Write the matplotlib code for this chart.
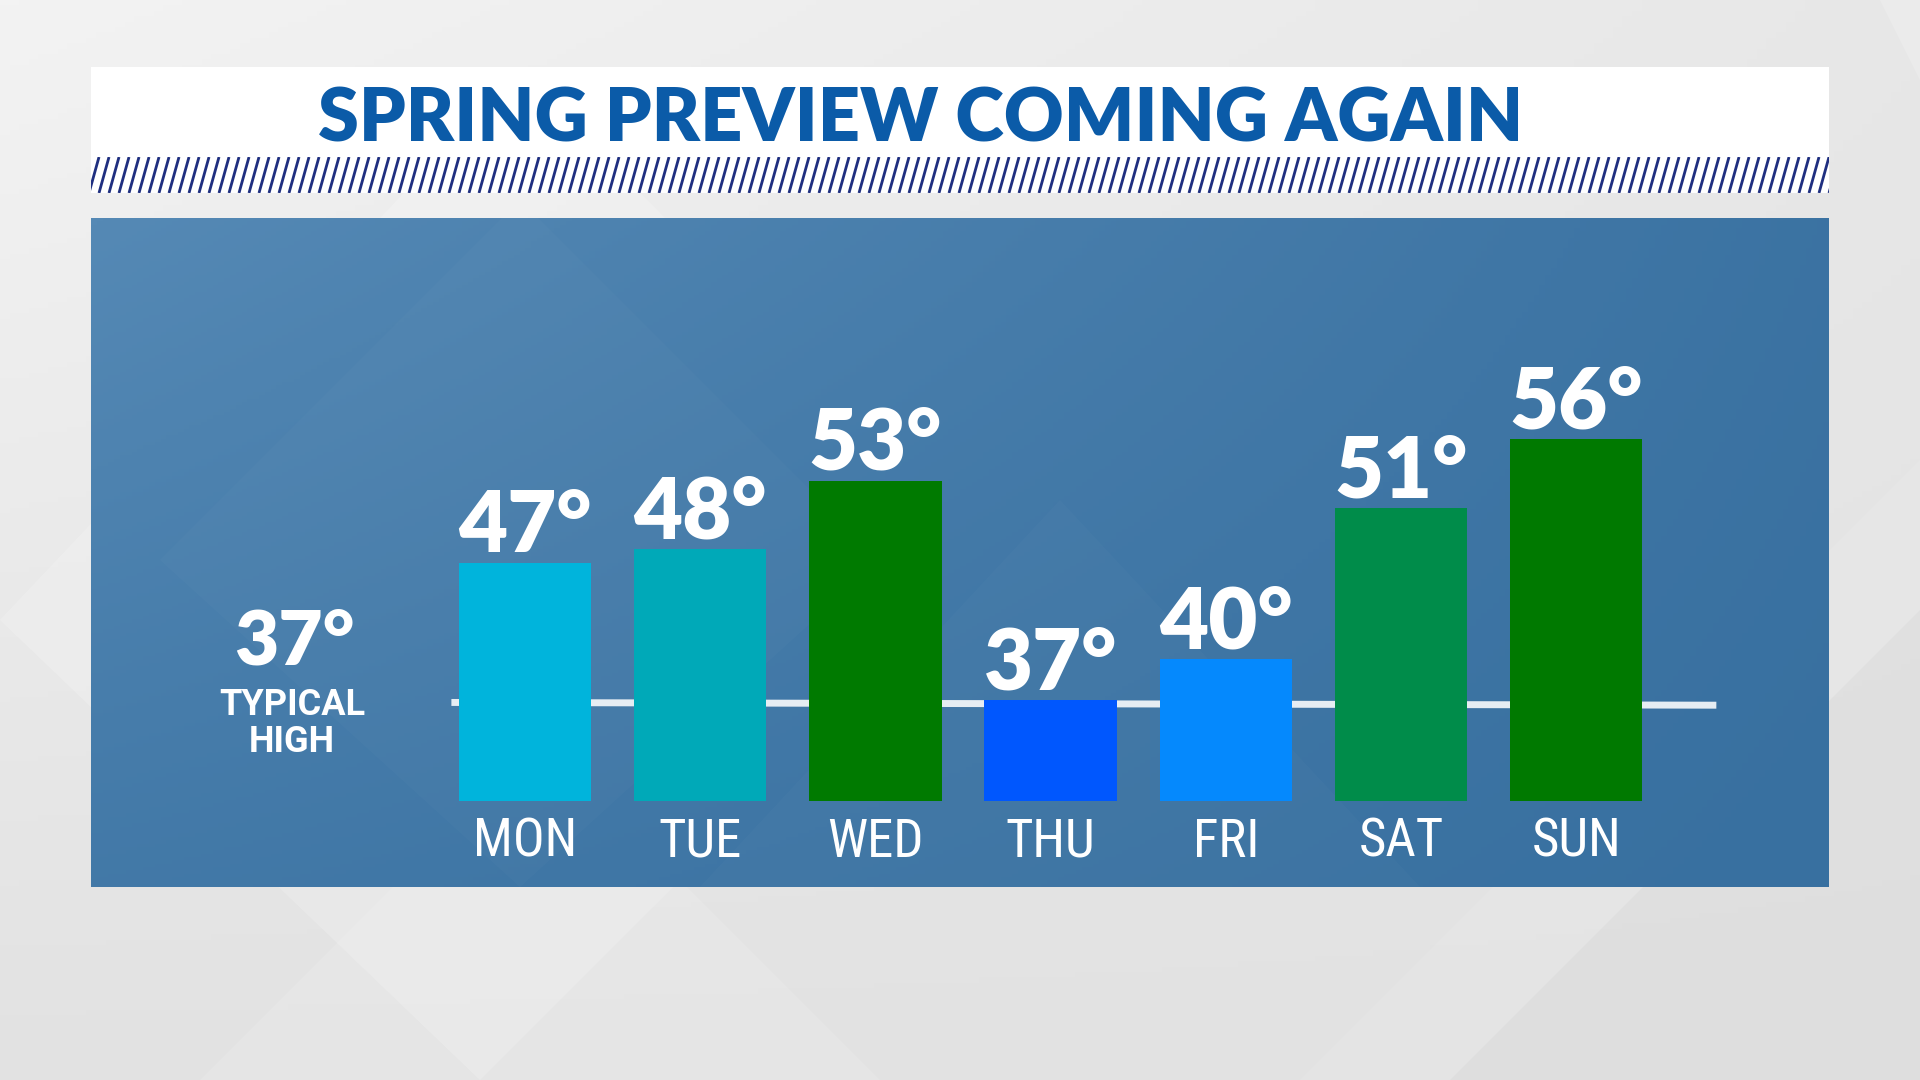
import numpy as np
import matplotlib
matplotlib.use("Agg")
import matplotlib.pyplot as plt
from matplotlib.patches import Rectangle, Polygon
from matplotlib.collections import LineCollection
from matplotlib.colors import LinearSegmentedColormap

# ---- data ----
days = ["MON", "TUE", "WED", "THU", "FRI", "SAT", "SUN"]
highs = [47, 48, 53, 37, 40, 51, 56]
bar_colors = ["#00b4dc", "#00a9b8", "#007a00", "#0057fe", "#0589fd", "#008c4a", "#007900"]
typical_high = 37
title = "SPRING PREVIEW COMING AGAIN"
typical_label = ["TYPICAL", "HIGH"]

W, H = 1920, 1080
fig = plt.figure(figsize=(19.2, 10.8), dpi=100)

# ---- background (pixel-coordinate decoration axes) ----
bg = fig.add_axes([0, 0, 1, 1])
bg.set_xlim(0, W)
bg.set_ylim(H, 0)
bg.axis("off")

yy, xx = np.mgrid[0:1:200j, 0:1:200j]
g = 0.55 * (1 - xx) * (1 - yy) + 0.25 * (1 - yy)
cmap_bg = LinearSegmentedColormap.from_list("bg", ["#e2e2e2", "#f3f3f3"])
bg.imshow(g, extent=[0, W, H, 0], cmap=cmap_bg, vmin=0, vmax=0.8, aspect="auto", zorder=0)

# faint diamond shapes
for pts, a in [
    ([(0, 620), (520, 70), (1000, 560), (480, 1080)], 0.18),
    ([(1300, 1080), (1920, 460), (1920, 1080)], 0.10),
    ([(200, 1080), (540, 740), (880, 1080)], 0.12),
    ([(1880, 0), (1920, 0), (1920, 80)], 0.2),
]:
    bg.add_patch(Polygon(pts, closed=True, facecolor="white", edgecolor="none", alpha=a, zorder=1))
bg.add_patch(Polygon([(1450, 1080), (1920, 610), (1920, 1080)], closed=True,
                     facecolor="#cfcfcf", edgecolor="none", alpha=0.25, zorder=1))

# title box
bx0, bx1 = 91, 1829
bg.add_patch(Rectangle((bx0, 67), bx1 - bx0, 90, facecolor="white", edgecolor="none", zorder=2))
hatch_rect = Rectangle((bx0, 157), bx1 - bx0, 36, facecolor="white", edgecolor="none", zorder=2)
bg.add_patch(hatch_rect)
segs = [[(x0, 193), (x0 + 10, 157)] for x0 in np.arange(bx0 - 12, bx1 + 12, 10)]
lc = LineCollection(segs, colors="#1f2f80", linewidths=2.0, zorder=3)
bg.add_collection(lc)
lc.set_clip_path(hatch_rect)

bg.text(921, 141, title, ha="center", va="baseline", fontsize=53,
        fontfamily="Lato", fontweight="heavy", color="#0b5ba8", zorder=4)

# blue panel with gradient
py0, py1 = 218, 887
yy2, xx2 = np.mgrid[0:1:200j, 0:1:300j]
g2 = np.clip(0.75 * (1 - xx2) * (1 - 0.6 * yy2) + 0.1 * (1 - yy2), 0, 1)
cmap_panel = LinearSegmentedColormap.from_list("panel", ["#3870a0", "#5589b5"])
bg.imshow(g2, extent=[bx0, bx1, py1, py0], cmap=cmap_panel, vmin=0, vmax=0.85,
          aspect="auto", zorder=2)
for pts, a in [
    ([(160, 560), (520, 200), (880, 560), (520, 887)], 0.018),
    ([(700, 887), (1060, 500), (1420, 887)], 0.018),
]:
    bg.add_patch(Polygon(pts, closed=True, facecolor="white", edgecolor="none", alpha=a, zorder=2.5))

# ---- chart axes over the panel ----
ax = fig.add_axes([bx0 / W, (H - py1) / H, (bx1 - bx0) / W, (py1 - py0) / H])
ax.patch.set_alpha(0)
ax.axis("off")
ax.set_xlim(-2.477, 7.443)
ax.set_ylim(23.41, 72.13)

base = 29.7
x = np.arange(len(days))

ax.plot([-0.42, 6.80], [typical_high - 0.15, typical_high - 0.35], color="#e6edf3",
        linewidth=5, solid_capstyle="butt", zorder=1)
ax.bar(x, np.array(highs) - base, bottom=base, width=0.755, color=bar_colors, zorder=2)

for xi, v in zip(x, highs):
    ax.annotate(f"{v}°", (xi, v), xytext=(0, 8), textcoords="offset points",
                ha="center", va="baseline", fontsize=61, fontfamily="Lato",
                fontweight="heavy", color="white", zorder=3)

for xi, d in zip(x, days):
    ax.text(xi, 25.6, d, ha="center", va="baseline", fontsize=38,
            fontfamily=["Roboto Condensed", "Liberation Sans Narrow", "Roboto"],
            color="white", zorder=3)

ax.text(-1.318, 39.58, f"{typical_high}°", ha="center", va="baseline", fontsize=55,
        fontfamily="Lato", fontweight="heavy", color="white")
ax.text(-1.33, 35.96, typical_label[0], ha="center", va="baseline", fontsize=26,
        fontfamily=["Liberation Sans Narrow", "Roboto"], fontweight="bold", color="white")
ax.text(-1.33, 33.24, typical_label[1], ha="center", va="baseline", fontsize=26,
        fontfamily=["Liberation Sans Narrow", "Roboto"], fontweight="bold", color="white")

fig.savefig("out.png", dpi=100)
